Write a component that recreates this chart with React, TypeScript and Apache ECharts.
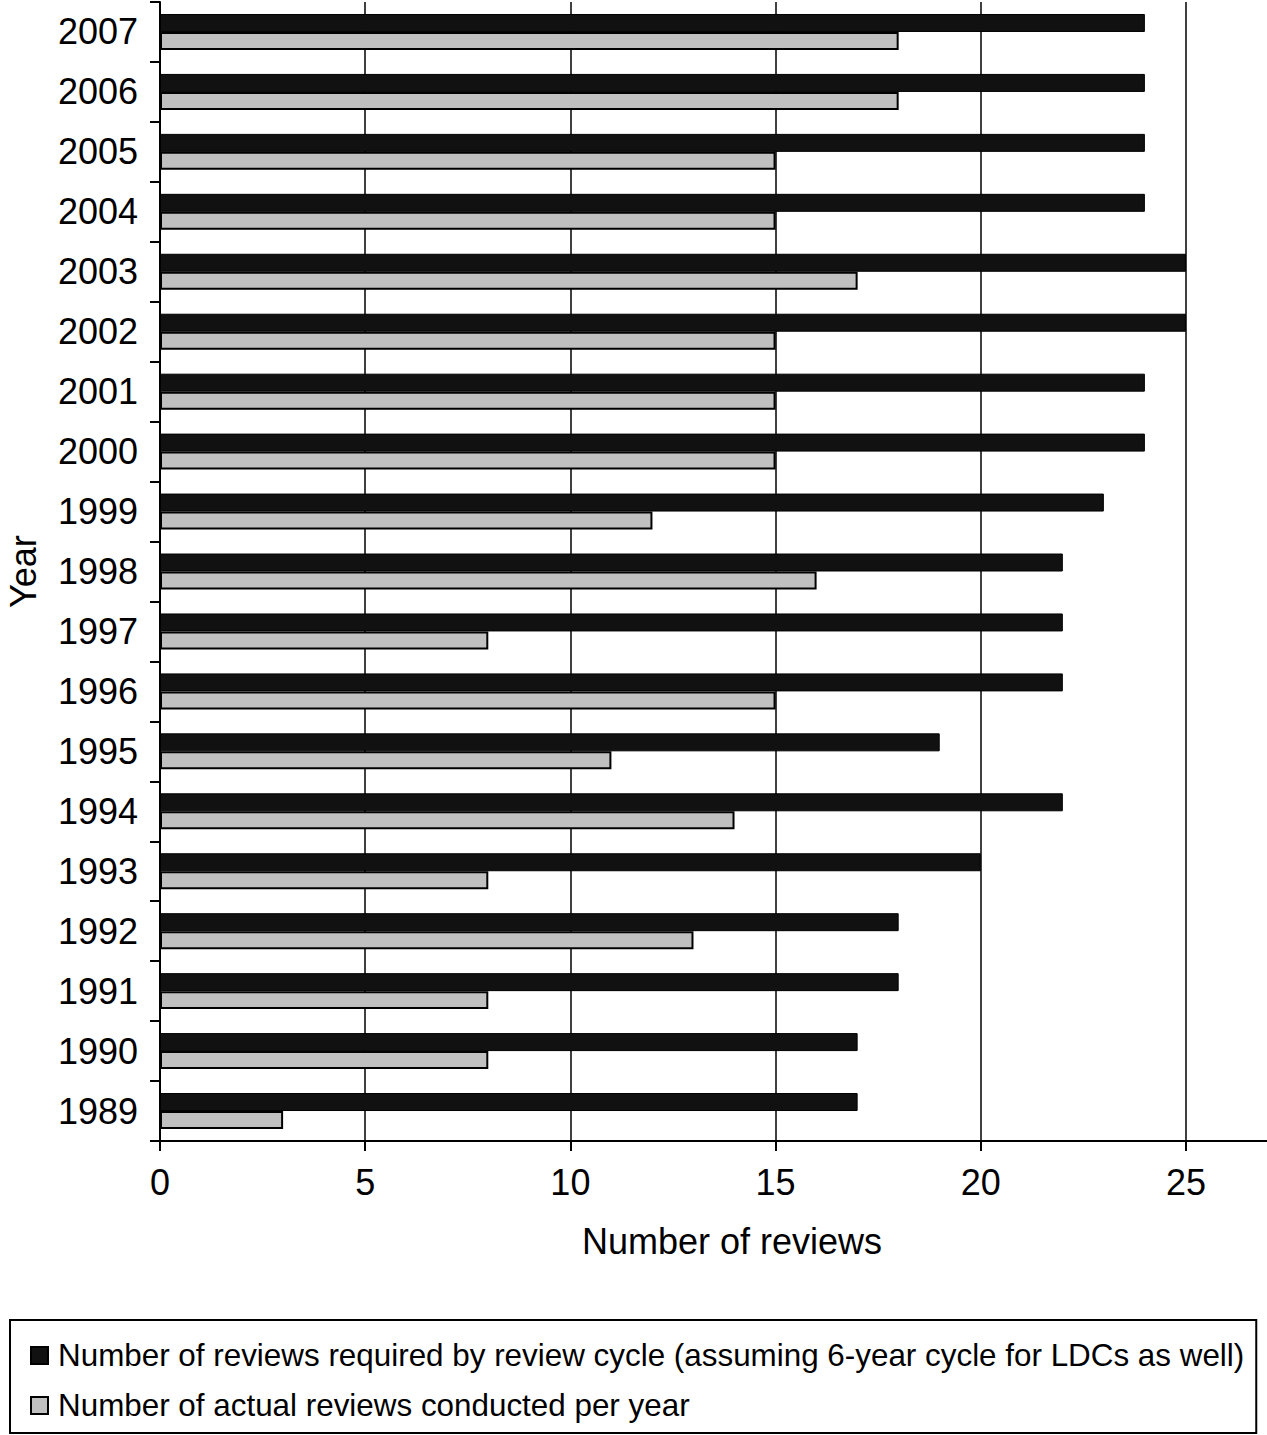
import React, { useEffect, useRef } from "react";
import * as echarts from "echarts";

const years = [
  "1989", "1990", "1991", "1992", "1993", "1994", "1995", "1996", "1997", "1998",
  "1999", "2000", "2001", "2002", "2003", "2004", "2005", "2006", "2007",
];
const requiredReviews = [17, 17, 18, 18, 20, 22, 19, 22, 22, 22, 23, 24, 24, 25, 25, 24, 24, 24, 24];
const actualReviews = [3, 8, 8, 13, 8, 14, 11, 15, 8, 16, 12, 15, 15, 15, 17, 15, 15, 18, 18];
const seriesNames = [
  "Number of reviews required by review cycle (assuming 6-year cycle for LDCs as well)",
  "Number of actual reviews conducted per year",
];
const xTicks = [0, 5, 10, 15, 20, 25];

const FONT = '"Liberation Sans", Arial, Helvetica, sans-serif';

export default function App() {
  const ref = useRef<HTMLDivElement>(null);
  useEffect(() => {
    document.body.style.margin = "0";
    if (!ref.current) return;
    const chart = echarts.init(ref.current, undefined, { renderer: "svg" });
    chart.setOption({
      animation: false,
      backgroundColor: "#ffffff",
      textStyle: { fontFamily: FONT, color: "#000" },
      grid: {
        left: 160,
        right: -1,
        top: 2,
        bottom: 294,
        containLabel: false,
        outerBoundsMode: "none",
      },
      legend: {
        data: seriesNames,
        orient: "vertical",
        left: 10,
        top: 1320,
        padding: [20, 12, 12, 20],
        itemGap: 19,
        itemWidth: 17,
        itemHeight: 17,
        borderColor: "#000",
        borderWidth: 2,
        icon: "rect",
        textStyle: { fontSize: 31.4, color: "#000", fontFamily: FONT, padding: [0, 0, 0, 5] },
      },
      xAxis: {
        type: "value",
        min: 0,
        max: 27,
        interval: 5,
        name: "Number of reviews",
        nameLocation: "middle",
        nameGap: 82,
        nameTextStyle: { fontSize: 36, color: "#000", fontFamily: FONT, padding: [0, 0, 0, 36] },
        axisLine: { show: true, lineStyle: { color: "#000", width: 2 } },
        axisTick: { show: true, length: 10, lineStyle: { color: "#000", width: 2 } },
        axisLabel: {
          fontSize: 36,
          color: "#000",
          margin: 23,
          fontFamily: FONT,
          formatter: (v: number) => (xTicks.includes(v) ? String(v) : ""),
        },
        splitLine: { show: true, lineStyle: { color: "#000", width: 1.5 } },
      },
      yAxis: {
        type: "category",
        data: years,
        name: "Year",
        nameLocation: "middle",
        nameGap: 119,
        nameTextStyle: { fontSize: 36, color: "#000", fontFamily: FONT },
        axisLine: { show: true, lineStyle: { color: "#000", width: 2 } },
        axisTick: { show: true, length: 10, alignWithLabel: false, lineStyle: { color: "#000", width: 2 } },
        axisLabel: { fontSize: 36, color: "#000", margin: 22, fontFamily: FONT },
        splitLine: { show: false },
      },
      series: [
        {
          name: seriesNames[0],
          type: "bar",
          data: requiredReviews,
          barGap: "0%",
          barCategoryGap: "40%",
          itemStyle: { color: "#111111", borderColor: "#000", borderWidth: 1 },
        },
        {
          name: seriesNames[1],
          type: "bar",
          data: actualReviews,
          barGap: "0%",
          barCategoryGap: "40%",
          itemStyle: { color: "#c0c0c0", borderColor: "#000", borderWidth: 2 },
        },
      ],
    });
    return () => chart.dispose();
  }, []);
  return (
    <div
      ref={ref}
      style={{ position: "absolute", left: 0, top: 0, width: 1267, height: 1435 }}
    />
  );
}
